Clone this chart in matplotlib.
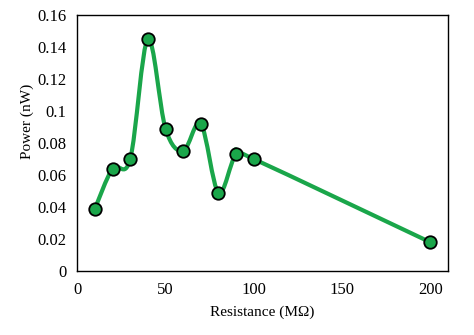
import numpy as np
import matplotlib.pyplot as plt
from matplotlib.path import Path
from matplotlib.patches import PathPatch

resistance = [10, 20, 30, 40, 50, 60, 70, 80, 90, 100, 200]   # MOhm
power = [0.039, 0.064, 0.070, 0.145, 0.089, 0.075, 0.092, 0.049, 0.073, 0.070, 0.018]  # nW
xticks = [0, 50, 100, 150, 200]
yticks = [0, 0.02, 0.04, 0.06, 0.08, 0.1, 0.12, 0.14, 0.16]
ytick_labels = ['0', '0.02', '0.04', '0.06', '0.08', '0.1', '0.12', '0.14', '0.16']

green = '#1aa64a'
plt.rcParams['font.family'] = ['Liberation Serif', 'DejaVu Serif']

fig = plt.figure(figsize=(4.74, 3.35), dpi=100)
ax = fig.add_axes([0.163, 0.191, 0.782, 0.764])
ax.set_xlim(0, 210)
ax.set_ylim(0, 0.16)

# smoothed line (catmull-rom style bezier through the points)
x = np.array(resistance, float)
y = np.array(power, float)
verts = [(x[0], y[0])]
codes = [Path.MOVETO]
n = len(x)
for i in range(n - 1):
    p0 = np.array([x[max(i - 1, 0)], y[max(i - 1, 0)]])
    p1 = np.array([x[i], y[i]])
    p2 = np.array([x[i + 1], y[i + 1]])
    p3 = np.array([x[min(i + 2, n - 1)], y[min(i + 2, n - 1)]])
    c1 = p1 + (p2 - p0) / 6
    c2 = p2 - (p3 - p1) / 6
    verts += [tuple(c1), tuple(c2), tuple(p2)]
    codes += [Path.CURVE4] * 3
ax.add_patch(PathPatch(Path(verts, codes), facecolor='none', edgecolor=green,
                       lw=3, zorder=2, capstyle='round', joinstyle='round'))
ax.plot(resistance, power, linestyle='none', marker='o', ms=9,
        mfc=green, mec='black', mew=1.3, zorder=3)

ax.set_xticks(xticks)
ax.set_yticks(yticks)
ax.set_yticklabels(ytick_labels)
ax.tick_params(length=0, labelsize=12, pad=8)
for s in ax.spines.values():
    s.set_color('black')
    s.set_linewidth(1.0)
ax.set_xlabel('Resistance (MΩ)', fontsize=11, labelpad=5)
ax.set_ylabel('Power (nW)', fontsize=11)
ax.yaxis.set_label_coords(-0.118, 0.583)

plt.savefig('out.png')
